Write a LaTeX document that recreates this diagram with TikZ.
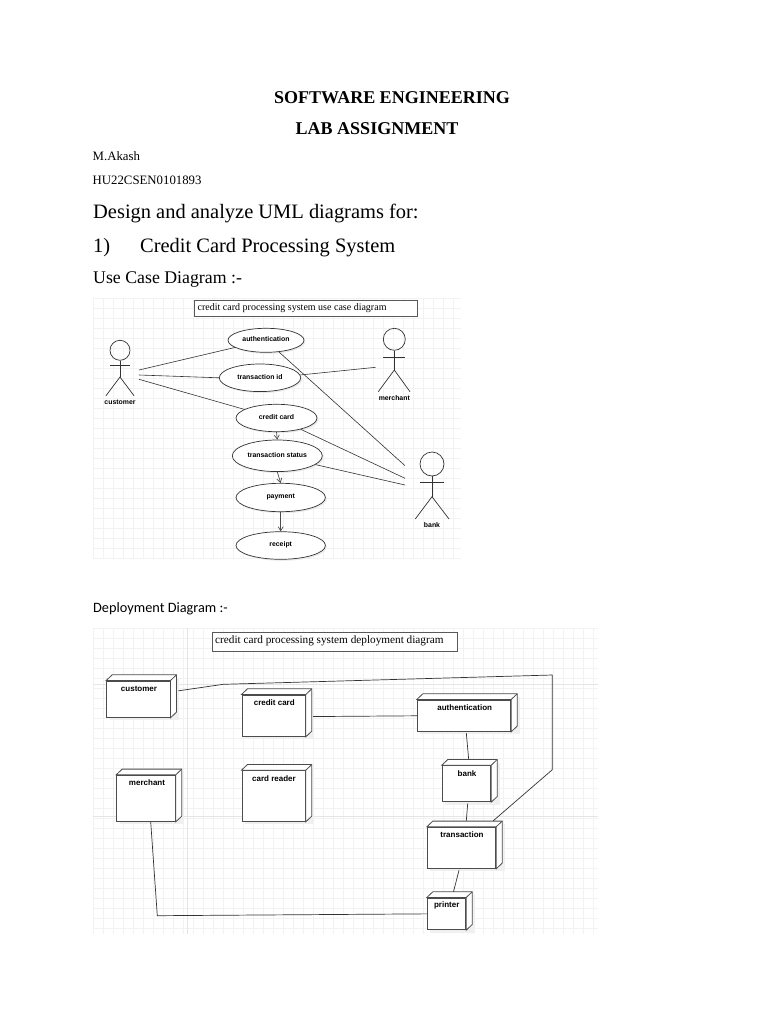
\documentclass[tikz,border=0pt]{standalone}
\usepackage{fontspec}
\setmainfont{Liberation Serif}
\setsansfont{Liberation Sans}
\newfontfamily\calibrilike{Carlito}
\usetikzlibrary{shapes.geometric,arrows.meta}
\tikzset{
  gridline/.style={draw=black!5,line width=.5pt},
  pageline/.style={draw=black!10,line width=.6pt},
  docbold/.style={anchor=center,inner sep=0pt,font=\bfseries\fontsize{18}{18}\selectfont},
  docsmall/.style={anchor=west,inner sep=0pt,font=\fontsize{12.8}{13}\selectfont},
  docbig/.style={anchor=west,inner sep=0pt,font=\fontsize{20.45}{21}\selectfont},
  docmid/.style={anchor=west,inner sep=0pt,font=\fontsize{17.8}{18}\selectfont},
  docsans/.style={anchor=west,inner sep=0pt,font=\calibrilike\fontsize{14.3}{14.3}\selectfont},
  titlebox/.style={draw=black!65,line width=.8pt,fill=white,inner sep=0pt},
  usecase/.style={ellipse,draw=black!80,line width=.7pt,fill=white,inner sep=0pt,
     text height=4pt,text depth=1.5pt,
     font=\sffamily\bfseries\fontsize{6.9}{8}\selectfont,
     preaction={draw=none,fill=black!8,transform canvas={shift={(1.5pt,-1.5pt)}}}},
  actorlabel/.style={inner sep=0pt,font=\sffamily\bfseries\fontsize{6.9}{8}\selectfont},
  actorline/.style={draw=black!80,line width=.7pt},
  assoc/.style={draw=black!80,line width=.6pt},
  include/.style={draw=black!70,line width=.7pt,-{Straight Barb[length=4pt,width=5pt]}},
  depbox/.style={draw=black!70,line width=1pt,fill=white,inner sep=0pt},
  depface/.style={draw=black!70,line width=.8pt,fill=white},
  depshadow/.style={fill=black!6,draw=none},
  deplabel/.style={inner sep=0pt,font=\sffamily\bfseries\fontsize{8}{9}\selectfont},
  wire/.style={draw=black!80,line width=.7pt},
}
% \depnode{name}{x1}{y1}{x2}{y2}{label cx}{label cy}{text}
\newcommand{\depnode}[8]{%
  \fill[depshadow] (#2+3,#3-3) rectangle (#4+9,#5+3);
  \node[depbox,minimum width={(#4-#2)*1pt},minimum height={(#5-#3)*1pt}] (#1) at ({(#2+#4)/2},{(#3+#5)/2}) {};
  \draw[depface] (#1.north west) -- ([shift={(6,-5.7)}]#1.north west) -- ([shift={(6,-5.7)}]#1.north east) -- ([shift={(6,-5.7)}]#1.south east) -- (#1.south east) -- (#1.north east) -- cycle;
  \draw[depface] (#1.north east) -- ([shift={(6,-5.7)}]#1.north east);
  \node[deplabel] (#1label) at (#6,#7) {#8};
}
\begin{document}
\begin{tikzpicture}[x=1pt,y=-1pt]
\useasboundingbox (0,0) rectangle (768,1024);
\fill[white] (0,0) rectangle (768,1024);
% document text
\node[docbold] (h1) at (392,98) {SOFTWARE ENGINEERING};
\node[docbold] (h2) at (377,129) {LAB ASSIGNMENT};
\node[docsmall] (t1) at (92.5,156) {M.Akash};
\node[docsmall] (t2) at (92.5,180) {HU22CSEN0101893};
\node[docbig] (t3) at (93,213.5) {Design and analyze UML diagrams for:};
\node[docbig] (t4) at (93,247.5) {1)};
\node[docbig] (t5) at (140,247.5) {Credit Card Processing System};
\node[docmid] (t6) at (93,280) {Use Case Diagram :-};
\node[docsans] (t7) at (93,609) {Deployment Diagram :-};
% grid 1
\foreach \x in {93,103,...,461} \draw[gridline] (\x,298) -- (\x,558);
\foreach \y in {298,308,...,558} \draw[gridline] (93,\y) -- (461,\y);
% use case diagram
\node[titlebox,minimum width=223.4pt,minimum height=16pt] (uctitle) at (306,308) {};
\node[anchor=west,inner sep=0pt,font=\fontsize{10}{11}\selectfont] (uctitletext) at (197.5,308) {credit card processing system use case diagram};
\node[usecase,minimum width=76pt,minimum height=24pt] (auth) at (266,340.3) {authentication};
\node[usecase,minimum width=81.4pt,minimum height=27.6pt] (tid) at (260,377.8) {transaction id};
\node[usecase,minimum width=81pt,minimum height=27.4pt] (cc) at (276.5,418) {credit card};
\node[usecase,minimum width=90pt,minimum height=31.6pt] (ts) at (277.3,455.8) {transaction status};
\node[usecase,minimum width=89.4pt,minimum height=28.4pt] (pay) at (280.7,497.5) {payment};
\node[usecase,minimum width=89.4pt,minimum height=27.6pt] (rec) at (280.7,545.5) {receipt};
% actors
\node[circle,actorline,minimum size=20pt,inner sep=0pt] (custh) at (120,350.3) {};
\draw[actorline] (custh.south) -- (120,377) coordinate (custb);
\draw[actorline] (110,365.7) -- (130,365.7);
\draw[actorline] (106,395.7) -- (custb) -- (134,395.7);
\node[actorlabel] (customer) at (120,402) {customer};
\node[circle,actorline,minimum size=22pt,inner sep=0pt] (merh) at (394.3,339.3) {};
\draw[actorline] (merh.south) -- (394.3,370) coordinate (merb);
\draw[actorline] (383,357.3) -- (405.3,357.3);
\draw[actorline] (378.3,391.7) -- (merb) -- (410,391.7);
\node[actorlabel] (merchant) at (394.3,398.3) {merchant};
\node[circle,actorline,minimum size=24pt,inner sep=0pt] (bankh) at (432,464) {};
\draw[actorline] (bankh.south) -- (432,496.7) coordinate (bankb);
\draw[actorline] (420,482.7) -- (444,482.7);
\draw[actorline] (415.3,519) -- (bankb) -- (449,519);
\node[actorlabel] (bank) at (432,525.3) {bank};
% free ends by the actors
\coordinate (ca) at (139,370);
\coordinate (cb) at (139,375);
\coordinate (cc1) at (139,379.3);
\coordinate (ma) at (375.7,367.3);
\coordinate (ba) at (405,465.7);
\coordinate (bb) at (405,478.3);
\coordinate (bc) at (405,485);
\draw[assoc] (ca) -- (auth.193);
\draw[assoc] (cb) -- (tid.180);
\draw[assoc] (cc1) -- (cc.165);
\draw[assoc] (auth.-42) -- (ba);
\draw[assoc] (tid.4) -- (ma);
\draw[assoc] (cc.-25) -- (bb);
\draw[assoc] (ts.-13) -- (bc);
\draw[include] (cc.south) -- (ts.north);
\draw[include] (ts.south) -- (pay.north);
\draw[include] (pay.south) -- (rec.north);
% grid 2
\foreach \x in {93,103,...,598} \draw[gridline] (\x,628) -- (\x,934);
\foreach \y in {628,638,...,934} \draw[gridline] (93,\y) -- (598,\y);
\draw[pageline] (93,684.7) -- (598,684.7);
\draw[pageline] (93,816.7) -- (598,816.7);
\draw[pageline] (187,628) -- (187,934);
% deployment diagram
\node[titlebox,minimum width=245.7pt,minimum height=19pt] (dptitle) at (334.85,642.2) {};
\node[anchor=west,inner sep=0pt,font=\fontsize{11.25}{12}\selectfont] (dptitletext) at (215,641) {credit card processing system deployment diagram};
\depnode{dcust}{106.7}{681}{170}{717.3}{139}{689}{customer}
\depnode{dcc}{242}{695}{305.3}{736.3}{274.3}{702.7}{credit card}
\depnode{dmer}{116.7}{775.3}{175.3}{821.3}{147}{783}{merchant}
\depnode{dcr}{242}{770.7}{305.3}{821.3}{274}{778.3}{card reader}
\depnode{dauth}{417.3}{700}{510.7}{731.3}{464.7}{707.3}{authentication}
\depnode{dbank}{442.3}{765.7}{490.7}{801.7}{467}{773.7}{bank}
\depnode{dtrans}{427.3}{827.3}{495.7}{868.3}{462}{834.7}{transaction}
\depnode{dprint}{427.3}{898}{465.7}{929.7}{446.7}{905.7}{printer}
% connectors
\coordinate (w1) at (223.3,684.3);
\coordinate (w2) at (552.3,675);
\coordinate (w3) at (552.3,769.7);
\coordinate (w4) at (157.3,915.7);
\draw[wire] ([shift={(8,10.3)}]dcust.north east) -- (w1) -- (w2) -- (w3) -- ([shift={(-3,-6)}]dtrans.north east);
\draw[wire] ([xshift=7.4pt,yshift=-.9pt]dcc.east) -- ([yshift=-.15pt]dauth.west);
\draw[wire] ([shift={(2.3,1.4)}]dauth.south) -- ([shift={(2.2,-5.7)}]dbank.north);
\draw[wire] ([shift={(1.2,1.3)}]dbank.south) -- ([shift={(4.8,-6)}]dtrans.north);
\draw[wire] ([shift={(-2.5,1.4)}]dtrans.south) -- ([shift={(7,-5.7)}]dprint.north);
\draw[wire] ([xshift=4.7pt]dmer.south) -- (w4) -- (dprint.west);
\end{tikzpicture}
\end{document}
